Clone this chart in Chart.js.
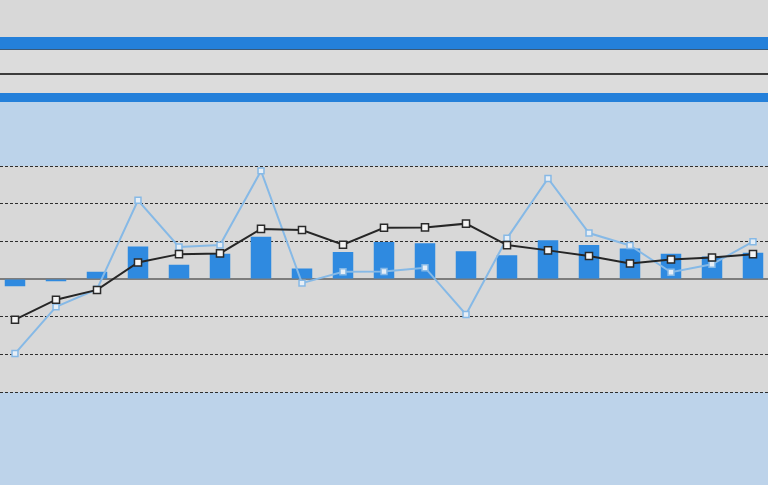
<!DOCTYPE html>
<html>
<head>
<meta charset="utf-8">
<script src="https://cdn.jsdelivr.net/npm/chart.js@4/dist/chart.umd.min.js"></script>
<style>
  html, body { margin: 0; padding: 0; }
  body { width: 768px; height: 485px; overflow: hidden; position: relative; background: #d9d9d9; }
  .band { position: absolute; left: 0; width: 768px; }
  #wrap { position: absolute; left: -12px; top: 0; width: 792px; height: 485px; }
</style>
</head>
<body>
<div class="band" style="top:0;height:37px;background:#d8d8d8"></div>
<div class="band" style="top:37px;height:12px;background:#2480da"></div>
<div class="band" style="top:49px;height:1px;background:#3a5a7a"></div>
<div class="band" style="top:50px;height:43px;background:#dcdcdc"></div>
<div class="band" style="top:73px;height:2px;background:#3c3c3c"></div>
<div class="band" style="top:93px;height:9px;background:#2480da"></div>
<div class="band" style="top:102px;height:64px;background:#bcd3ea"></div>
<div class="band" style="top:166px;height:226px;background:#d8d8d8"></div>
<div class="band" style="top:392px;height:93px;background:#bdd3ea"></div>
<div id="wrap"><canvas id="c" width="792" height="485"></canvas></div>
<script>
const categories = ['1','2','3','4','5','6','7','8','9','10','11','12','13','14','15','16','17','18','19'];
const barValues = [-1.9, -0.6, 1.9, 8.6, 3.8, 6.7, 11.2, 2.8, 7.2, 9.8, 9.5, 7.4, 6.3, 10.3, 9.0, 8.1, 6.7, 6.0, 7.0];
const darkLine = [-10.8, -5.5, -2.9, 4.4, 6.6, 6.8, 13.3, 13.0, 9.1, 13.6, 13.7, 14.7, 9.0, 7.6, 6.1, 4.1, 5.2, 5.7, 6.6];
const lightLine = [-19.8, -7.4, -2.7, 20.9, 8.5, 9.0, 28.7, -1.1, 1.9, 2.0, 3.0, -9.4, 10.8, 26.7, 12.2, 8.9, 1.8, 3.9, 9.9];
const yTicks = [-30, -20, -10, 0, 10, 20, 30];

const zeroLine = {
  id: 'zeroLine',
  beforeDatasetsDraw(chart) {
    const y = chart.scales.y.getPixelForValue(0);
    const ctx = chart.ctx;
    ctx.save();
    ctx.strokeStyle = '#5f5f5f';
    ctx.lineWidth = 1.5;
    ctx.beginPath();
    ctx.moveTo(0, y);
    ctx.lineTo(chart.width, y);
    ctx.stroke();
    ctx.restore();
  }
};

new Chart(document.getElementById('c'), {
  data: {
    labels: categories,
    datasets: [
      {
        type: 'line', data: lightLine, borderColor: '#86b9e6', borderWidth: 2,
        pointStyle: 'rect', pointRadius: 4.2, pointBackgroundColor: '#e6eef6',
        pointBorderColor: '#86b9e6', pointBorderWidth: 1.5, tension: 0, order: 2
      },
      {
        type: 'line', data: darkLine, borderColor: '#262626', borderWidth: 2,
        pointStyle: 'rect', pointRadius: 5, pointBackgroundColor: '#f4f4f4',
        pointBorderColor: '#2a2a2a', pointBorderWidth: 1.5, tension: 0, order: 1
      },
      {
        type: 'bar', data: barValues, backgroundColor: '#2f8ae0',
        barPercentage: 0.5, categoryPercentage: 1.0, order: 3
      }
    ]
  },
  options: {
    responsive: false,
    animation: false,
    layout: { padding: { top: 166, bottom: 93, left: 0, right: 0 } },
    plugins: { legend: { display: false }, tooltip: { enabled: false } },
    scales: {
      x: {
        type: 'category', offset: true,
        grid: { display: false }, border: { display: false },
        ticks: { display: false },
        afterFit(scale) { scale.height = 0; }
      },
      y: {
        min: -30, max: 30,
        afterBuildTicks(scale) { scale.ticks = yTicks.map(v => ({ value: v })); },
        ticks: { display: false },
        afterFit(scale) { scale.width = 0; },
        border: { display: false, dash: [3, 2] },
        grid: {
          drawTicks: false,
          lineWidth: 1,
          color: ctx => ctx.tick && ctx.tick.value === 0 ? 'rgba(0,0,0,0)' : '#2e2e2e'
        }
      }
    }
  },
  plugins: [zeroLine]
});
</script>
</body>
</html>
